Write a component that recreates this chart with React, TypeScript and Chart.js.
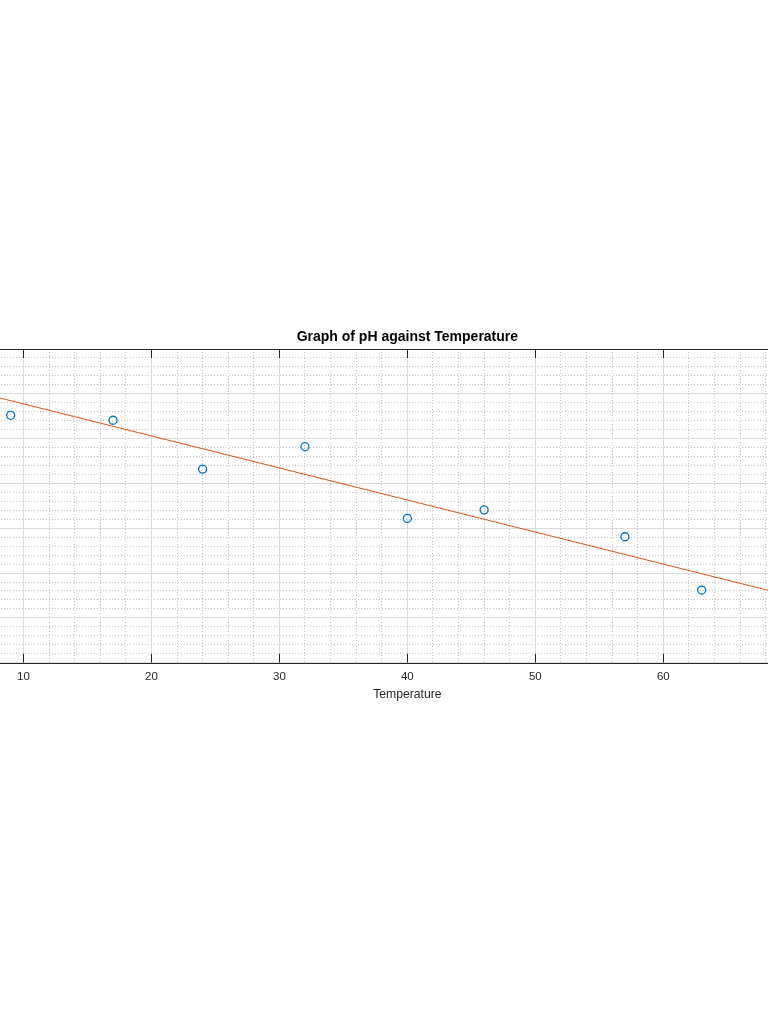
import React, { useEffect, useRef } from "react";
import { Chart, registerables } from "chart.js";

Chart.register(...registerables);

// Data
const temperatures = [9, 17, 24, 32, 40, 46, 57, 63];
const phValues = [7.152, 7.141, 7.032, 7.082, 6.922, 6.941, 6.881, 6.762];
const fitTemperatures = [0, 80];
const fitPh = [7.249, 6.677];

const xMin = 0;
const xMax = 80;
const xMajorStep = 10;
const xMinorStep = 2;
const yMin = 6.6;
const yMax = 7.3;
const yMajorStep = 0.1;
const yMinorStep = 0.02;

const chartTitle = "Graph of pH against Temperature";
const xTitle = "Temperature";
const yTitle = "pH";

const FONT = "'Liberation Sans', Arial, Helvetica, sans-serif";
const AXIS_COLOR = "#262626";

const boxPlugin = {
  id: "matlabBox",
  afterDatasetsDraw(chart: any) {
    const { ctx, chartArea } = chart;
    const { left, right, top, bottom } = chartArea;
    ctx.save();
    ctx.strokeStyle = AXIS_COLOR;
    ctx.lineWidth = 1;
    const tl = 9;
    const xs = chart.scales.x;
    ctx.beginPath();
    xs.ticks.forEach((t: any) => {
      const px = Math.round(xs.getPixelForValue(t.value)) + 0.5;
      ctx.moveTo(px, top);
      ctx.lineTo(px, top + tl);
      ctx.moveTo(px, bottom);
      ctx.lineTo(px, bottom - tl);
    });
    const ys = chart.scales.y;
    ys.ticks.forEach((t: any) => {
      const py = Math.round(ys.getPixelForValue(t.value)) + 0.5;
      ctx.moveTo(left, py);
      ctx.lineTo(left + tl, py);
      ctx.moveTo(right, py);
      ctx.lineTo(right - tl, py);
    });
    ctx.stroke();
    ctx.strokeRect(
      Math.round(left) + 0.5,
      Math.round(top) + 0.5,
      Math.round(right) - Math.round(left),
      Math.round(bottom) - Math.round(top)
    );
    ctx.restore();
  },
};

function isMultiple(v: number, step: number) {
  const r = v / step;
  return Math.abs(r - Math.round(r)) < 1e-6;
}

export default function App() {
  const canvasRef = useRef<HTMLCanvasElement | null>(null);

  useEffect(() => {
    const canvas = canvasRef.current;
    if (!canvas) return;
    const chart = new Chart(canvas, {
      type: "scatter",
      data: {
        datasets: [
          {
            label: "data",
            data: temperatures.map((t, i) => ({ x: t, y: phValues[i] })),
            showLine: false,
            pointStyle: "circle",
            pointRadius: 4,
            pointBorderWidth: 1.3,
            pointBackgroundColor: "rgba(0,0,0,0)",
            pointBorderColor: "#0072BD",
            borderColor: "#0072BD",
            order: 1,
          },
          {
            label: "fit",
            data: fitTemperatures.map((t, i) => ({ x: t, y: fitPh[i] })),
            showLine: true,
            pointRadius: 0,
            borderColor: "#D95319",
            borderWidth: 1,
            backgroundColor: "rgba(0,0,0,0)",
            order: 2,
          },
        ],
      },
      options: {
        animation: false,
        responsive: false,
        maintainAspectRatio: false,
        devicePixelRatio: 1,
        layout: { padding: { left: 20.5, right: 19.8, top: 29.1, bottom: 10.3 } },
        plugins: {
          legend: { display: false },
          tooltip: { enabled: false },
          title: {
            display: true,
            text: chartTitle,
            color: "#000",
            font: { family: FONT, size: 14, weight: "bold", lineHeight: 1.2 },
            padding: { top: 0, bottom: 3.1 },
          },
        },
        scales: {
          x2: {
            type: "linear",
            position: "bottom",
            min: xMin,
            max: xMax,
            ticks: { display: false, stepSize: xMinorStep },
            grid: {
              drawTicks: false,
              tickLength: 0,
              color: (c: any) =>
                isMultiple(c.tick.value, xMajorStep) ? "rgba(0,0,0,0)" : "#c4c4c4",
              lineWidth: 1,
            },
            border: { display: false, dash: [1, 2] },
          },
          y2: {
            type: "linear",
            position: "left",
            min: yMin,
            max: yMax,
            ticks: { display: false, stepSize: yMinorStep },
            grid: {
              drawTicks: false,
              tickLength: 0,
              color: (c: any) =>
                isMultiple(c.tick.value, yMajorStep) ? "rgba(0,0,0,0)" : "#c4c4c4",
              lineWidth: 1,
            },
            border: { display: false, dash: [1, 2] },
          },
          x: {
            type: "linear",
            position: "bottom",
            min: xMin,
            max: xMax,
            ticks: {
              stepSize: xMajorStep,
              color: AXIS_COLOR,
              padding: 7.1,
              maxRotation: 0,
              font: { family: FONT, size: 11.5, lineHeight: 1.2 },
            },
            grid: { drawTicks: false, tickLength: 0, color: "#dcdcdc", lineWidth: 1 },
            border: { display: false },
            title: {
              display: true,
              text: xTitle,
              color: AXIS_COLOR,
              font: { family: FONT, size: 12.2, lineHeight: 1.2 },
              padding: { top: -3.6, bottom: 0 },
            },
          },
          y: {
            type: "linear",
            position: "left",
            min: yMin,
            max: yMax,
            ticks: { display: false, stepSize: yMajorStep },
            grid: { drawTicks: false, tickLength: 0, color: "#dcdcdc", lineWidth: 1 },
            border: { display: false },
            title: { display: false, text: yTitle },
          },
        },
      },
      plugins: [boxPlugin],
    } as any);
    return () => chart.destroy();
  }, []);

  return (
    <div
      style={{
        position: "fixed",
        left: 0,
        top: 0,
        width: 768,
        height: 1024,
        overflow: "hidden",
        background: "#fff",
      }}
    >
      <canvas
        ref={canvasRef}
        width={1064}
        height={412}
        style={{ position: "absolute", left: -125, top: 300, width: 1064, height: 412 }}
      />
    </div>
  );
}
